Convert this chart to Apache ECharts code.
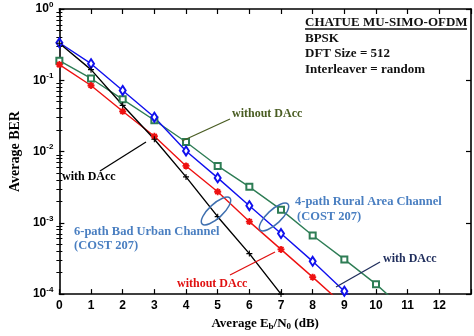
<!DOCTYPE html>
<html><head><meta charset="utf-8">
<script src="https://cdn.jsdelivr.net/npm/echarts@6/dist/echarts.min.js"></script>
<style>html,body{margin:0;padding:0;background:#fff}#c{width:474px;height:336px}</style>
</head><body><div id="c"></div>
<script>
// ---- data ----
const ebn0 = [0,1,2,3,4,5,6,7,8,9,10,11];
const xTicks = [0,1,2,3,4,5,6,7,8,9,10,11,12];
const yTicks = [1e-4,1e-3,1e-2,1e-1,1];
// 6-path Bad Urban, with DAcc (black +)
const berUrbanWith = [0.33,0.141,0.0445,0.0149,0.00441,0.00122,3.7e-4,1.0e-4];
// 6-path Bad Urban, without DAcc (red *)
const berUrbanWithout = [0.166,0.0845,0.0367,0.0164,0.00628,0.00273,0.00104,4.24e-4,1.73e-4,6.9e-5];
// 4-path Rural Area, with DAcc (blue diamond)
const berRuralWith = [0.336,0.171,0.072,0.0303,0.0102,0.00427,0.00174,7.08e-4,2.88e-4,1.1e-4,4.2e-5];
// 4-path Rural Area, without DAcc (green square)
const berRuralWithout = [0.188,0.106,0.054,0.0275,0.0136,0.00628,0.0032,0.00153,6.64e-4,3.07e-4,1.38e-4,5.5e-5];
const minorTickValues = [];
[1e-4,1e-3,1e-2,1e-1].forEach(d=>{for(let k=2;k<=9;k++) minorTickValues.push(+(d*k).toPrecision(3));});

const pairs = vals => vals.map((v,i)=>[ebn0[i], v]);
const chart = echarts.init(document.getElementById('c'), null, {renderer:'canvas'});
const serif = 'Liberation Serif';
const sans = 'Arial, "Liberation Sans", sans-serif';
const expo = v => { const e = Math.round(Math.log10(v)); return '{b|10}{e|' + e + '}'; };
const yLabelRich = { b:{fontFamily:sans,fontWeight:'bold',fontSize:12,color:'#000'}, e:{fontFamily:sans,fontWeight:'bold',fontSize:8,color:'#000',padding:[0,0,9,0]} };

const baseX = {type:'value', min:0, max:13, interval:1, splitLine:{show:false},
  axisLine:{show:true,onZero:false,lineStyle:{color:'#000',width:1.6}},
  axisTick:{show:true,inside:true,length:5,lineStyle:{color:'#000',width:1.2}}};
const baseY = {type:'log', logBase:10, min:1e-4, max:1, splitLine:{show:false},
  axisLine:{show:true,onZero:false,lineStyle:{color:'#000',width:1.6}},
  axisTick:{show:true,inside:true,length:5,lineStyle:{color:'#000',width:1.2}}};

const lineSeries = (name, vals, color, symbol, size, extra) => Object.assign({
  name, type:'line', data:pairs(vals), xAxisIndex:0, yAxisIndex:0, clip:true,
  symbol, symbolSize:size, showAllSymbol:true,
  lineStyle:{color, width:1.4}, itemStyle:{color, borderColor:color, borderWidth:1},
  emphasis:{disabled:true}, animation:false, z:3
}, extra||{});

const txt = (left, top, text, color, size) => ({type:'text', left, top, style:{text, fill:color, font:'bold '+(size||12)+'px "'+serif+'"'}, z:10});
const seg = (x1,y1,x2,y2,color) => ({type:'line', shape:{x1,y1,x2,y2}, style:{stroke:color, lineWidth:1.3}, z:10});
const ell = (x,y,rx,ry,rot,color) => ({type:'ellipse', x, y, rotation:rot, shape:{cx:0,cy:0,rx,ry}, style:{fill:'none', stroke:color, lineWidth:1.5}, z:10});

const lightBlue = '#4a7fc1';
chart.setOption({
  animation:false,
  backgroundColor:'#fff',
  grid:{left:48, top:9, right:3, bottom:40, containLabel:false},
  xAxis:[
    Object.assign({}, baseX, {position:'bottom',
      axisLabel:{show:true, margin:6, fontFamily:sans, fontWeight:'bold', fontSize:12, color:'#000', customValues:xTicks},
      name:'{t|Average E}{s|b}{t|/N}{s|0}{t| (dB)}', nameLocation:'middle', nameGap:18,
      nameTextStyle:{rich:{t:{fontFamily:serif,fontWeight:'bold',fontSize:13,color:'#000'}, s:{fontFamily:serif,fontWeight:'bold',fontSize:9,color:'#000',padding:[6,0,0,0]}}}}),
    Object.assign({}, baseX, {position:'top', axisLabel:{show:false}})
  ],
  yAxis:[
    Object.assign({}, baseY, {position:'left',
      axisLabel:{show:true, margin:6, formatter:expo, rich:yLabelRich},
      name:'Average BER', nameLocation:'middle', nameGap:30, nameRotate:90,
      nameTextStyle:{fontFamily:serif, fontWeight:'bold', fontSize:14, color:'#000'}}),
    Object.assign({}, baseY, {position:'right', axisLabel:{show:false}}),
    Object.assign({}, baseY, {position:'left', axisLine:{show:false}, axisLabel:{show:false},
      axisTick:{show:true,inside:true,length:3,customValues:minorTickValues,lineStyle:{color:'#000',width:1}}}),
    Object.assign({}, baseY, {position:'right', axisLine:{show:false}, axisLabel:{show:false},
      axisTick:{show:true,inside:true,length:3,customValues:minorTickValues,lineStyle:{color:'#000',width:1}}})
  ],
  series:[
    lineSeries('Rural without DAcc', berRuralWithout, '#2e7d55', 'emptyRect', 6),
    lineSeries('Rural with DAcc', berRuralWith, '#1010ee', 'emptyDiamond', [6,9]),
    lineSeries('Urban without DAcc', berUrbanWithout, '#ee1111', 'path://M0,5L10,5M5,0L5,10M1.5,1.5L8.5,8.5M1.5,8.5L8.5,1.5', 7, {itemStyle:{color:'#ee1111',borderColor:'#ee1111',borderWidth:1.8}}),
    lineSeries('Urban with DAcc', berUrbanWith, '#000000', 'path://M0,5L10,5M5,0L5,10', 6, {itemStyle:{color:'#000',borderColor:'#000',borderWidth:1.1}})
  ],
  graphic:[
    {type:'text', left:305, top:15, style:{text:'CHATUE MU-SIMO-OFDM\nBPSK\nDFT Size = 512\nInterleaver = random', fill:'#111', font:'bold 13px "'+serif+'"', lineHeight:15.5}, z:10},
    seg(305,29,467,29,'#111'),
    txt(232,108,'without DAcc','#4a5d23'),
    seg(230,119,182,141,'#4a5d23'),
    txt(62,171,'with DAcc','#000'),
    seg(100,171,146,142,'#000'),
    txt(177,278,'without DAcc','#e01010'),
    seg(230,275,275,252,'#e01010'),
    txt(383,253,'with DAcc','#1f2d5c'),
    seg(380,262,336,287,'#1f2d5c'),
    txt(295,195,'4-path Rural Area Channel',lightBlue, 12.5),
    txt(297,210,'(COST 207)',lightBlue, 12.5),
    txt(74,225,'6-path Bad Urban Channel',lightBlue, 12.5),
    txt(74,239,'(COST 207)',lightBlue, 12.5),
    ell(216,211,19,7,0.75,'#3f70b0'),
    ell(274,217,19,7,0.75,'#3f70b0')
  ]
});
</script></body></html>
